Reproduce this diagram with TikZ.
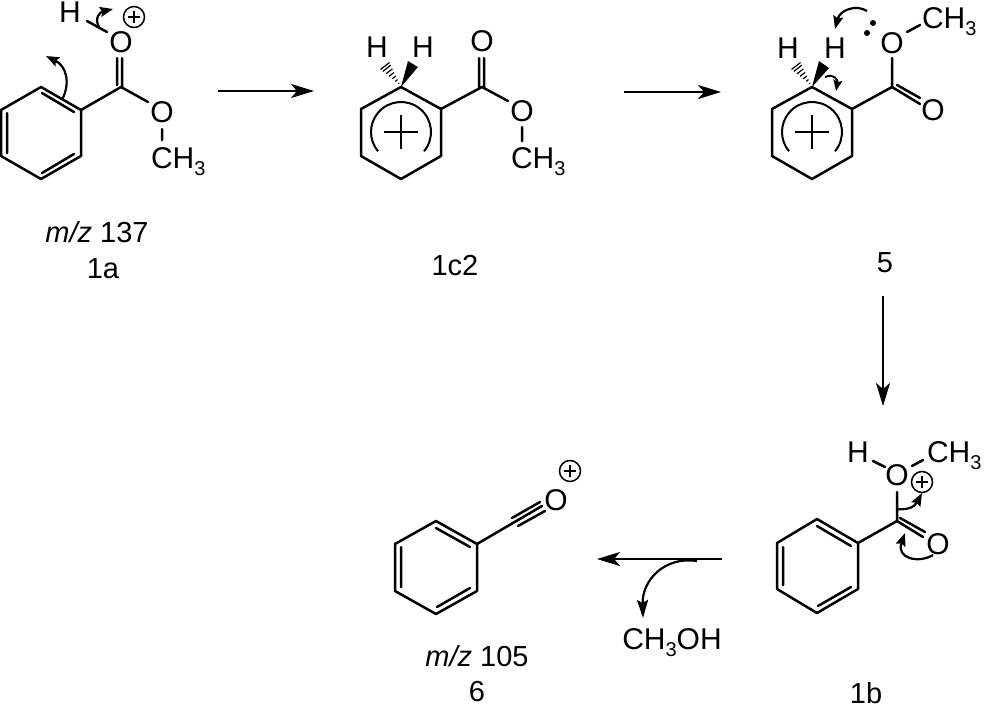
\documentclass[tikz,border=0pt]{standalone}
\usepackage{fontspec}
\setmainfont{Liberation Sans}
\usetikzlibrary{arrows.meta}
\tikzset{
  atom/.style={inner sep=0pt,outer sep=0pt,anchor=base,font=\fontsize{30}{30}\selectfont},
  atomw/.style={atom,anchor=base west},
  lbl/.style={inner sep=0pt,outer sep=0pt,anchor=base,font=\fontsize{29}{29}\selectfont},
  bond/.style={line width=2.5pt,line cap=round,line join=round},
  rxn/.style={line width=2.3pt,-{Stealth[length=23pt,width=14pt,inset=6pt]}},
  curly/.style={line width=2.2pt,-{Stealth[length=13pt,width=10pt,inset=2pt]}},
  chg/.style={circle,draw,line width=1.5pt,minimum size=21pt,inner sep=0pt},
}
\newcommand{\subthree}{\raisebox{-7pt}{\fontsize{20}{20}\selectfont 3}}
\newcommand{\pluss}[1]{\draw[line width=1.5pt] ($(#1)+(-6,0)$) -- ($(#1)+(6,0)$) ($(#1)+(0,-6)$) -- ($(#1)+(0,6)$);}
\usetikzlibrary{calc}
\newcommand{\ringbonds}[6]{\draw[bond] (#1,#2) -- (#3,#4);}
\begin{document}
\begin{tikzpicture}[x=1pt,y=-1pt]
\useasboundingbox (0,0) rectangle (986,705);
% ---------- 1a
\draw[bond] (41,87) -- (81,110) -- (81,156) -- (41,179) -- (1,156) -- (1,110) -- cycle;
\draw[bond] (42,93) -- (74,112) (7,113) -- (7,153) (42,173) -- (74,154);
\draw[bond] (81,110) -- (121,87) -- (148,102) (117,58) -- (117,85) (122,58) -- (122,87) (162,129) -- (162,140) (87,21) -- (107,32);
\node[atom] (h1a) at (70,22) {H};
\node[atom] (o1a) at (121,52) {O};
\node[atom] (oe1a) at (162,122) {O};
\node[atomw] (me1a) at (151,168) {CH\subthree};
\node[chg] (c1a) at (134,17) {}; \pluss{c1a}
\coordinate (a1s) at (99,27); \coordinate (a1e) at (113,9);
\draw[curly] (a1s) .. controls (94,18) and (100,12) .. (a1e);
\coordinate (a2s) at (62,100); \coordinate (a2e) at (46,56);
\draw[curly] (a2s) .. controls (71,82) and (66,66) .. (a2e);
\node[lbl] (t1) at (97,242) {\textit{m/z} 137};
\node[lbl] (t2) at (103,278) {1a};
% arrows
\coordinate (r1s) at (218,91); \coordinate (r1e) at (314,91);
\draw[rxn] (r1s) -- (r1e);
\coordinate (r2s) at (624,92); \coordinate (r2e) at (721,92);
\draw[rxn] (r2s) -- (r2e);
\coordinate (r3s) at (883,296); \coordinate (r3e) at (883,406);
\draw[rxn] (r3s) -- (r3e);
\coordinate (r4s) at (722,559); \coordinate (r4e) at (597,559);
\draw[rxn] (r4s) -- (r4e);
% ---------- 1c2
\draw[bond] (401,87) -- (441,109) -- (441,156) -- (401,179) -- (361,156) -- (361,109) -- cycle;
\draw[bond] (441,109) -- (482,87) -- (508,101) (479,58) -- (479,87) (484,58) -- (484,87) (522,127) -- (522,141);
\draw[line width=2pt] (401,132) ++(40:30) arc (40:-220:30);
\draw[line width=1.8pt] (384,132) -- (418,132) (401,115) -- (401,149);
\fill (401,87) -- (418,67) -- (408,61) -- cycle;
\foreach \t in {0.08,0.24,0.4,0.56,0.72,0.88,1}{
  \draw[line width=1.2pt] ($(400,85)!\t!(385,66)+(\t*4.5,-\t*3.5)$) -- ($(400,85)!\t!(385,66)+(-\t*4.5,\t*3.5)$);}
\node[atom] (h1) at (377,57) {H};
\node[atom] (h2) at (423,57) {H};
\node[atom] (o1) at (482,51) {O};
\node[atom] (o2) at (522,121) {O};
\node[atomw] (me2) at (511,168) {CH\subthree};
\node[lbl] (t3) at (455,275) {1c2};
% ---------- 5
\draw[bond] (812,87) -- (852,109) -- (852,156) -- (812,179) -- (772,156) -- (772,109) -- cycle;
\draw[bond] (852,109) -- (892,87) -- (892,58) (892,87) -- (920,104) (897,85) -- (920,98) (907,32) -- (920,25);
\draw[line width=2pt] (812,132) ++(40:30) arc (40:-220:30);
\draw[line width=1.8pt] (795,132) -- (829,132) (812,115) -- (812,149);
\fill (812,87) -- (829,68) -- (819,61) -- cycle;
\foreach \t in {0.08,0.24,0.4,0.56,0.72,0.88,1}{
  \draw[line width=1.2pt] ($(811,85)!\t!(796,66)+(\t*4.5,-\t*3.5)$) -- ($(811,85)!\t!(796,66)+(-\t*4.5,\t*3.5)$);}
\node[atom] (h3) at (788,58) {H};
\node[atom] (h4) at (835,58) {H};
\node[atom] (o3) at (892,53) {O};
\node[atom] (o4) at (933,120) {O};
\node[atomw] (me3) at (922,28) {CH\subthree};
\fill (873,23) circle (3pt) (867,33) circle (3pt);
\coordinate (a3s) at (867,11); \coordinate (a3e) at (835,29);
\draw[curly] (a3s) .. controls (856,4) and (840,10) .. (a3e);
\coordinate (a4s) at (825,77); \coordinate (a4e) at (836,91);
\draw[curly,line width=1.9pt,-{Stealth[length=11pt,width=9pt,inset=2pt]}] (a4s) .. controls (834,73) and (838,80) .. (a4e);
\node[lbl] (t4) at (885,272) {5};
% ---------- 1b
\draw[bond] (817,519) -- (858,543) -- (858,589) -- (817,613) -- (777,589) -- (777,543) -- cycle;
\draw[bond] (817,526) -- (851,546) (783,547) -- (783,585) (818,606) -- (851,587);
\draw[bond] (858,543) -- (897,521) -- (897,492) (897,521) -- (923,537) (900,518) -- (925,532) (873,461) -- (885,467) (912,466) -- (923,460);
\node[atom] (h5) at (858,462) {H};
\node[atom] (o5) at (897,485) {O};
\node[atomw] (me5) at (927,462) {CH\subthree};
\node[atom] (o6) at (938,554) {O};
\node[chg] (c5) at (922,482) {}; \pluss{c5}
\coordinate (a5s) at (896,509); \coordinate (a5e) at (922,493);
\draw[curly] (a5s) .. controls (906,510) and (914,508) .. (a5e);
\coordinate (a6s) at (933,555); \coordinate (a6e) at (905,533);
\draw[curly] (a6s) .. controls (918,564) and (896,558) .. (a6e);
\node[lbl] (t5) at (866,703) {1b};
% ---------- 6
\draw[bond] (436,521) -- (477,544) -- (477,591) -- (436,614) -- (395,591) -- (395,544) -- cycle;
\draw[bond] (436,528) -- (470,547) (401,547) -- (401,587) (437,607) -- (470,588);
\draw[bond] (477,544) -- (542,506) (512,518) -- (540,502) (518,526) -- (545,511);
\node[atom] (o7) at (556,510) {O};
\node[chg] (c7) at (570,471) {}; \pluss{c7}
\node[lbl] (t6) at (477,666) {\textit{m/z} 105};
\node[lbl] (t7) at (477,701) {6};
\node[atom] (meoh) at (672,649) {CH\subthree OH};
\coordinate (a7s) at (697,561); \coordinate (a7e) at (643,618);
\draw[curly,-{Stealth[length=18pt,width=11pt,inset=3pt]}] (a7s) .. controls (665,556) and (642,580) .. (a7e);
\end{tikzpicture}
\end{document}
